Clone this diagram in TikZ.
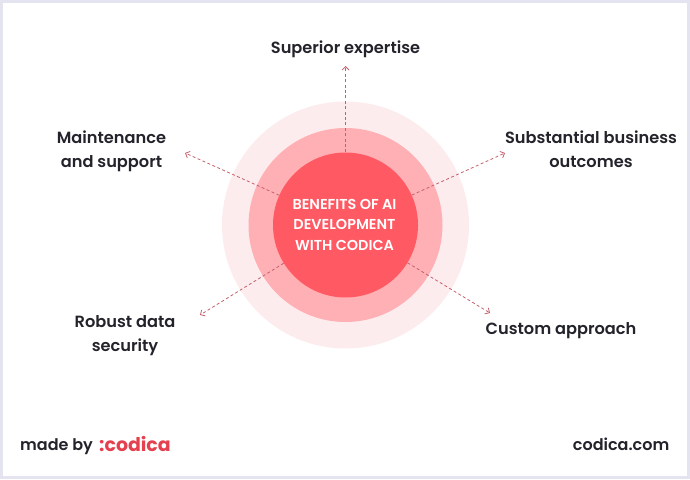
\documentclass[tikz,border=0pt]{standalone}
\usepackage{fontspec}
\setmainfont{Poppins}
\newfontfamily\semifont{Poppins SemiBold}
\usetikzlibrary{arrows.meta,positioning}
\definecolor{frameblue}{HTML}{E4E4F1}
\definecolor{ringout}{HTML}{FDECEE}
\definecolor{ringmid}{HTML}{FFB0B4}
\definecolor{ringin}{HTML}{FF5A63}
\definecolor{linkred}{HTML}{C4606E}
\definecolor{inkdark}{HTML}{23232B}
\definecolor{logored}{HTML}{E5404E}
\tikzset{font=\semifont}
\tikzset{benefit/.style={text=inkdark,font=\semifont\fontsize{16.2}{24.3}\selectfont,align=center,inner sep=0pt}}
\tikzset{foot/.style={text=inkdark,font=\semifont\fontsize{16}{18}\selectfont,inner sep=0pt}}
\tikzset{ring/.style={circle,inner sep=0pt,minimum size=#1}}
\tikzset{link/.style={draw=linkred,dashed,dash pattern=on 3pt off 2.4pt,line width=.8pt,-{Straight Barb[length=3.5pt,width=7pt,line width=.8pt]}}}

\begin{document}
\begin{tikzpicture}[x=1pt,y=-1pt]
  \useasboundingbox (0,0) rectangle (690,479);
  \draw[frameblue,line width=3pt,fill=white] (1.5,1.5) rectangle (688.5,477.5);

  \node[ring=247pt,fill=ringout] (outer) at (345.5,225) {};
  \node[ring=194pt,fill=ringmid] (middle) at (345.5,225) {};
  \node[ring=145pt,fill=ringin] (core) at (345.5,225)
     {};
  \node[text=white,font=\semifont\fontsize{14.4}{20.5}\selectfont,align=center,inner sep=0pt] (title) at (344.5,224.8)
     {BENEFITS OF AI\\DEVELOPMENT\\WITH CODICA};

  \node[benefit] (expertise) at (345.5,49.5) {Superior expertise};
  \node[benefit] (maintenance) at (111.5,151.3) {Maintenance\\and support};
  \node[benefit] (outcomes) at (591,149) {Substantial business\\outcomes};
  \node[benefit] (security) at (125,335.7) {Robust data\\security};
  \node[benefit] (custom) at (561,330.5) {Custom approach};

  \coordinate (toptip) at (345.5,66);
  \coordinate (lefttip) at (185,153);
  \coordinate (righttip) at (505,153);
  \coordinate (lowlefttip) at (200,315);
  \coordinate (lowrighttip) at (490,313);

  \draw[link] (core) -- (toptip);
  \draw[link] (core) -- (lefttip);
  \draw[link] (core) -- (righttip);
  \draw[link] (core) -- (lowlefttip);
  \draw[link] (core) -- (lowrighttip);

  \node[foot,anchor=base west] (madeby) at (20,450) {made by};
  \node[text=logored,font=\fontspec{Poppins Bold}\fontsize{18.9}{20}\selectfont,anchor=base west,inner sep=0pt] (logo) at (99,451) {:codica};
  \node[foot,anchor=base east] (site) at (669.5,450) {codica.com};
\end{tikzpicture}
\end{document}
